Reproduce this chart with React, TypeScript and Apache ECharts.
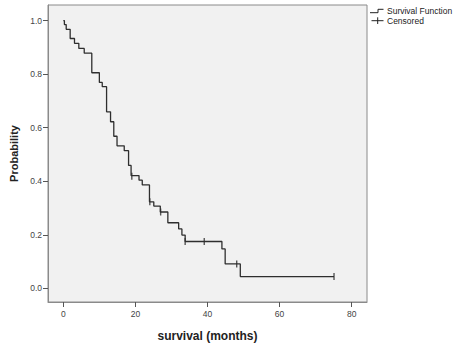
import React, { useEffect, useRef } from "react";
import * as echarts from "echarts";

const eventTimes = [0, 0.3, 0.8, 1.9, 3.1, 4.3, 5.8, 7.9, 10.0, 10.8, 12.0, 13.1, 14.0, 14.9, 16.9, 18.1, 18.8, 21.0, 21.9, 23.9, 25.1, 26.9, 29.0, 32.0, 32.9, 33.8, 44.0, 44.9, 49.1, 75.1];
const survival = [1.0, 0.985, 0.967, 0.933, 0.915, 0.896, 0.878, 0.805, 0.769, 0.753, 0.659, 0.622, 0.568, 0.532, 0.514, 0.459, 0.421, 0.404, 0.386, 0.323, 0.307, 0.285, 0.245, 0.222, 0.199, 0.175, 0.147, 0.091, 0.044, 0.044];
const censorTimes = [19.0, 24.0, 27.0, 33.8, 39.1, 48.1, 75.1];
const censorValues = [0.419, 0.323, 0.285, 0.175, 0.175, 0.091, 0.044];
const xTicks = [0, 20, 40, 60, 80];
const yTicks = [0, 0.2, 0.4, 0.6, 0.8, 1.0];
const legendLabels = ["Survival Function", "Censored"];

export default function App() {
  const ref = useRef<HTMLDivElement>(null);
  useEffect(() => {
    if (!ref.current) return;
    const chart = echarts.init(ref.current, null, { renderer: "svg" });
    const font = "'Liberation Sans', Arial, sans-serif";
    chart.setOption({
      animation: false,
      backgroundColor: "#ffffff",
      grid: {
        left: 40,
        top: 5,
        width: 327,
        height: 305,
        show: true,
        backgroundColor: "#f1f1f1",
        borderColor: "#8a8a8a",
        borderWidth: 1,
      },
      xAxis: {
        type: "value",
        min: -4.25,
        max: 84.25,
        name: "survival (months)",
        nameLocation: "middle",
        nameGap: 28,
        nameTextStyle: { fontFamily: font, fontSize: 12, fontWeight: "bold", color: "#222" },
        axisLine: { show: true, onZero: false, lineStyle: { color: "#8a8a8a" } },
        axisTick: { show: true, length: 5, customValues: xTicks, lineStyle: { color: "#555" } },
        axisLabel: {
          customValues: xTicks,
          fontFamily: font,
          fontSize: 8.5,
          color: "#444",
          margin: 7,
        },
        splitLine: { show: false },
      },
      yAxis: {
        type: "value",
        min: -0.051,
        max: 1.058,
        name: "Probability",
        nameLocation: "middle",
        nameGap: 29,
        nameTextStyle: { fontFamily: font, fontSize: 11, fontWeight: "bold", color: "#222" },
        axisLine: { show: true, onZero: false, lineStyle: { color: "#8a8a8a" } },
        axisTick: { show: true, length: 5, customValues: yTicks, lineStyle: { color: "#555" } },
        axisLabel: {
          customValues: yTicks,
          fontFamily: font,
          fontSize: 8.5,
          color: "#444",
          margin: 6,
          formatter: (v: number) => v.toFixed(1),
        },
        splitLine: { show: false },
      },
      series: [
        {
          type: "line",
          step: "end",
          data: eventTimes.map((t, i) => [t, survival[i]]),
          showSymbol: false,
          symbol: "none",
          lineStyle: { color: "#2e2e2e", width: 1.3 },
        },
        {
          type: "scatter",
          data: censorTimes.map((t, i) => [t, censorValues[i]]),
          symbol: "rect",
          symbolSize: [1.4, 7],
          itemStyle: { color: "#2e2e2e" },
        },
      ],
      graphic: [
        {
          type: "polyline",
          shape: { points: [[370, 12.7], [378, 12.7], [378, 9.3], [383.5, 9.3]] },
          style: { stroke: "#222", lineWidth: 1, fill: null },
        },
        {
          type: "line",
          shape: { x1: 371.5, y1: 20.7, x2: 383.5, y2: 20.7 },
          style: { stroke: "#222", lineWidth: 1 },
        },
        {
          type: "line",
          shape: { x1: 377.7, y1: 17.3, x2: 377.7, y2: 24 },
          style: { stroke: "#222", lineWidth: 1 },
        },
        {
          type: "text",
          x: 387,
          y: 11.3,
          style: {
            text: legendLabels[0],
            fontFamily: font,
            fontSize: 8.5,
            fill: "#222",
            verticalAlign: "middle",
          },
        },
        {
          type: "text",
          x: 387,
          y: 20.7,
          style: {
            text: legendLabels[1],
            fontFamily: font,
            fontSize: 8.5,
            fill: "#222",
            verticalAlign: "middle",
          },
        },
      ],
    });
    return () => chart.dispose();
  }, []);
  return (
    <div
      ref={ref}
      style={{ position: "fixed", left: 0, top: 0, width: 474, height: 347 }}
    />
  );
}
